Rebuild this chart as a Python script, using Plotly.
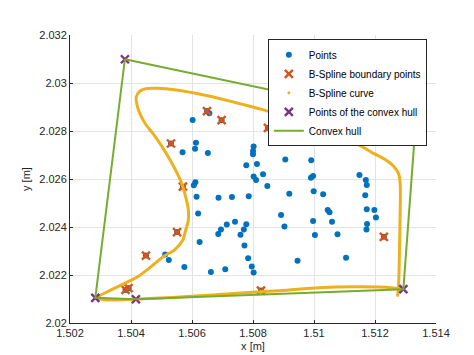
import plotly.graph_objects as go

# ---- data ----
points_x = [1.50602, 1.50657, 1.50613, 1.50610, 1.50569, 1.50652, 1.50802, 1.50800, 1.50800, 1.50813,
            1.50778, 1.50802, 1.50810, 1.50833, 1.50847, 1.50611, 1.50606, 1.50615, 1.50687, 1.50731,
            1.50786, 1.50620, 1.50695, 1.50686, 1.50714, 1.50741, 1.50778, 1.50770, 1.50759, 1.50625,
            1.50772, 1.50784, 1.50796, 1.50802, 1.50709, 1.50662, 1.50575, 1.50524, 1.50512, 1.50906,
            1.50991, 1.50997, 1.50990, 1.50919, 1.50999, 1.51030, 1.51149, 1.51170, 1.51173, 1.51168,
            1.51173, 1.51198, 1.51203, 1.51174, 1.51172, 1.51045, 1.51051, 1.50892, 1.50997, 1.51059,
            1.50903, 1.51003, 1.51077, 1.50946, 1.51105]
points_y = [2.02846, 2.02874, 2.02751, 2.02726, 2.02711, 2.02708, 2.02735, 2.02717, 2.02703, 2.02663,
            2.02657, 2.02610, 2.02596, 2.02620, 2.02571, 2.02586, 2.02574, 2.02526, 2.02522, 2.02525,
            2.02528, 2.02456, 2.02390, 2.02371, 2.02410, 2.02422, 2.02411, 2.02390, 2.02368, 2.02338,
            2.02323, 2.02270, 2.02235, 2.02210, 2.02224, 2.02213, 2.02233, 2.02262, 2.02285, 2.02681,
            2.02678, 2.02612, 2.02605, 2.02539, 2.02549, 2.02536, 2.02617, 2.02596, 2.02575, 2.02532,
            2.02474, 2.02471, 2.02440, 2.02412, 2.02390, 2.02471, 2.02461, 2.02450, 2.02425, 2.02422,
            2.02402, 2.02367, 2.02370, 2.02259, 2.02272]

boundary_x = [1.50649, 1.50697, 1.50531, 1.50849, 1.50570, 1.50551, 1.50449, 1.50382, 1.50392, 1.50826, 1.51229]
boundary_y = [2.02883, 2.02845, 2.02748, 2.02813, 2.02568, 2.02379, 2.02281, 2.02138, 2.02145, 2.02135, 2.02359]

curve_x = [1.51274, 1.51277, 1.51279, 1.51281, 1.51283, 1.51283, 1.51278, 1.51261, 1.51232, 1.51189,
           1.51143, 1.51045, 1.50937, 1.50829, 1.50773, 1.50651, 1.50543, 1.50488, 1.50448, 1.50428,
           1.50417, 1.50420, 1.50430, 1.50448, 1.50474, 1.50498, 1.50531, 1.50564, 1.50578, 1.50588,
           1.50588, 1.50579, 1.50570, 1.50542, 1.50510, 1.50477, 1.50455, 1.50422, 1.50367, 1.50324,
           1.50288, 1.50313, 1.50367, 1.50477, 1.50586, 1.50773, 1.50881, 1.50991, 1.51143, 1.51254,
           1.51284]
curve_y = [2.02110, 2.02153, 2.02220, 2.02361, 2.02499, 2.02570, 2.02620, 2.02653, 2.02682, 2.02711,
           2.02745, 2.02795, 2.02845, 2.02890, 2.02909, 2.02947, 2.02972, 2.02978, 2.02976, 2.02965,
           2.02940, 2.02907, 2.02870, 2.02828, 2.02786, 2.02742, 2.02673, 2.02589, 2.02532, 2.02471,
           2.02428, 2.02386, 2.02346, 2.02304, 2.02280, 2.02247, 2.02224, 2.02193, 2.02158, 2.02131,
           2.02106, 2.02097, 2.02097, 2.02103, 2.02110, 2.02126, 2.02134, 2.02145, 2.02151, 2.02147,
           2.02140]

hull_x = [1.50380, 1.51334, 1.51293, 1.50416, 1.50283]
hull_y = [2.03099, 2.02844, 2.02141, 2.02099, 2.02105]

x_ticks = [1.502, 1.504, 1.506, 1.508, 1.510, 1.512, 1.514]
x_labels = ["1.502", "1.504", "1.506", "1.508", "1.51", "1.512", "1.514"]
y_ticks = [2.020, 2.022, 2.024, 2.026, 2.028, 2.030, 2.032]
y_labels = ["2.02", "2.022", "2.024", "2.026", "2.028", "2.03", "2.032"]

# ---- styles ----
C_BLUE = "#0072BD"
C_ORANGE = "#D95319"
C_YELLOW = "#EDB120"
C_PURPLE = "#7E2F8E"
C_GREEN = "#77AC30"
C_TEXT = "#262626"
FONT = "Liberation Sans, Arial, Helvetica, sans-serif"

fig = go.Figure()

# Points (boundary points are also members of the point set)
fig.add_trace(go.Scatter(
    x=points_x + boundary_x, y=points_y + boundary_y, mode="markers", name="Points",
    marker=dict(color=C_BLUE, size=6, line=dict(width=0)),
))
fig.add_trace(go.Scatter(
    x=boundary_x, y=boundary_y, mode="markers", name="B-Spline boundary points",
    marker=dict(symbol="x-thin", size=8, color=C_ORANGE, line=dict(color=C_ORANGE, width=2.4)),
))
fig.add_trace(go.Scatter(
    x=curve_x, y=curve_y, mode="lines", name="B-Spline curve", showlegend=False,
    legendgroup="curve",
    line=dict(color=C_YELLOW, width=3, shape="spline", smoothing=0.7),
))
fig.add_trace(go.Scatter(
    x=[None], y=[None], mode="markers", name="B-Spline curve", legendgroup="curve",
    marker=dict(color=C_YELLOW, size=3),
))
fig.add_trace(go.Scatter(
    x=hull_x, y=hull_y, mode="markers", name="Points of the convex hull",
    marker=dict(symbol="x-thin", size=8, color=C_PURPLE, line=dict(color=C_PURPLE, width=2.4)),
))
fig.add_trace(go.Scatter(
    x=hull_x + hull_x[:1], y=hull_y + hull_y[:1], mode="lines", name="Convex hull",
    line=dict(color=C_GREEN, width=2),
))

axis_common = dict(
    showgrid=True, gridcolor="#E3E3E3", gridwidth=1,
    showline=True, linecolor=C_TEXT, linewidth=1, mirror=False,
    ticks="inside", ticklen=3, tickcolor=C_TEXT, tickwidth=1,
    zeroline=False, tickfont=dict(family=FONT, size=11, color=C_TEXT),
    tickmode="array",
)

fig.update_layout(
    width=474, height=355,
    margin=dict(l=62, r=46, t=27, b=40),
    paper_bgcolor="white", plot_bgcolor="white",
    font=dict(family=FONT, size=11, color=C_TEXT),
    xaxis=dict(range=[1.502, 1.514], tickvals=x_ticks, ticktext=x_labels,
               title=dict(text="x [m]", font=dict(family=FONT, size=11, color=C_TEXT), standoff=4),
               **axis_common),
    yaxis=dict(range=[2.020, 2.032], tickvals=y_ticks, ticktext=y_labels,
               title=dict(text="y [m]", font=dict(family=FONT, size=11, color=C_TEXT), standoff=6),
               **axis_common),
    legend=dict(x=0.975, y=0.985, xanchor="right", yanchor="top",
                bgcolor="white", bordercolor=C_TEXT, borderwidth=1,
                font=dict(family=FONT, size=10, color="#000000"),
                tracegroupgap=0, itemwidth=30),
    showlegend=True,
)

fig.write_html("out.html")
